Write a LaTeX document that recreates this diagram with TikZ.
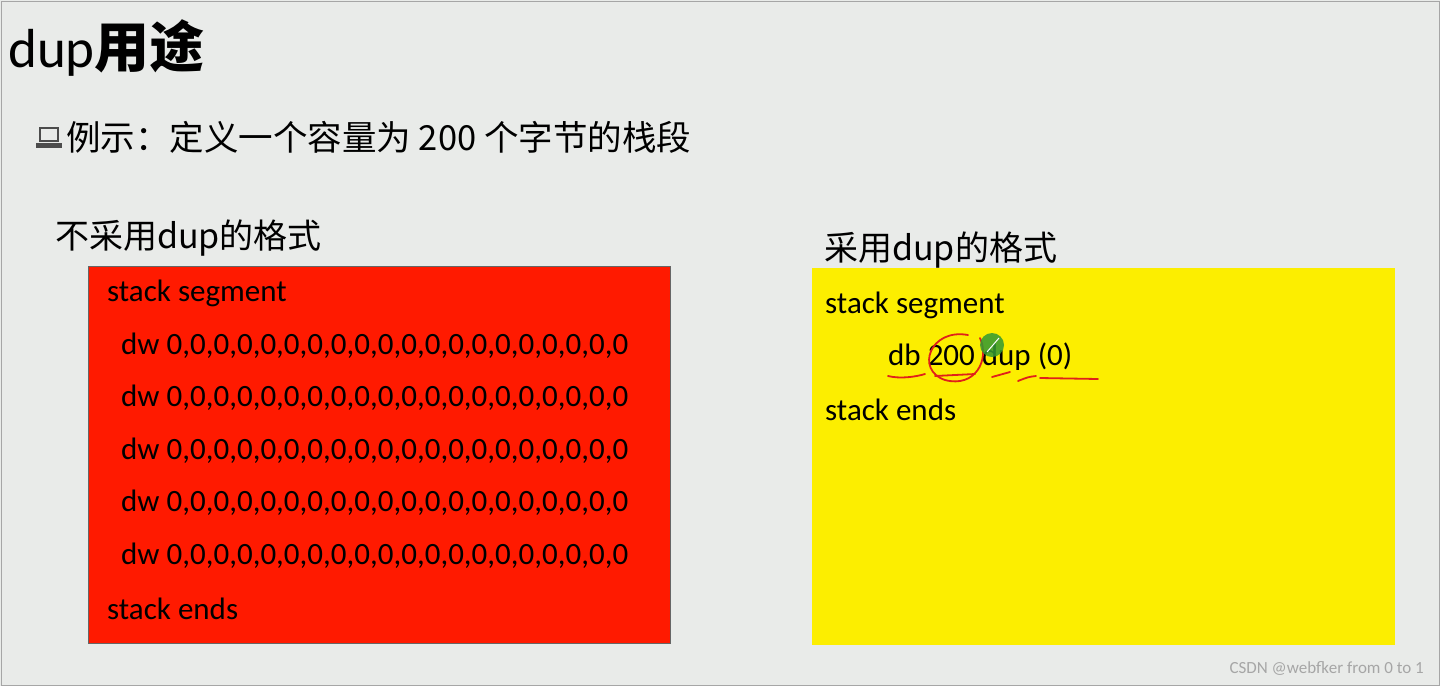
\documentclass[tikz,border=0pt]{standalone}
\usepackage{fontspec}
\setmainfont{Carlito}
\newfontfamily\cjk{Noto Sans CJK SC}
\definecolor{bg}{HTML}{E9EBE9}
\definecolor{redbox}{HTML}{FF1A00}
\definecolor{yelbox}{HTML}{FCEE00}
\definecolor{ink}{HTML}{E0201A}
\tikzset{code/.style={anchor=west,inner sep=0pt,font=\fontsize{31}{33}\selectfont},
 mark red/.style={draw=ink,line width=1.8pt,line cap=round}}
\begin{document}
\begin{tikzpicture}[x=1pt,y=-1pt]
\useasboundingbox (0,0) rectangle (1440,686);
\fill[bg] (0,0) rectangle (1440,686);
\draw[gray!70,line width=1pt] (1,1) rectangle (1439,685);
\node[anchor=west,inner sep=0pt,font=\fontsize{55}{58}\selectfont] (title) at (8,48) {dup{\cjk\bfseries 用途}};
\draw[black!70,line width=1.2pt] (40,128) rectangle (58,141);
\fill[black!70] (36,143) rectangle (62,148);
\node[anchor=west,inner sep=0pt,font=\cjk\fontsize{34.5}{36}\selectfont] (sub) at (66,137) {例示：定义一个容量为 200 个字节的栈段};
\node[anchor=west,inner sep=0pt,font=\cjk\fontsize{34}{36}\selectfont] (lh) at (55,238) {不采用dup的格式};
\node[anchor=west,inner sep=0pt,font=\cjk\fontsize{34}{36}\selectfont] (rh) at (824,250) {采用dup的格式};
\node[draw=black!60,fill=redbox,minimum width=582pt,minimum height=377pt,anchor=north west,inner sep=0pt] (lbox) at (88,266) {};
\node[fill=yelbox,minimum width=583pt,minimum height=377pt,anchor=north west,inner sep=0pt] (rbox) at (812,268) {};
\node[code] (l1) at (107,293) {stack segment};
\foreach \i/\y in {2/346,3/398,4/451,5/503,6/556}
  \node[code] (l\i) at (121,\y) {dw 0,0,0,0,0,0,0,0,0,0,0,0,0,0,0,0,0,0,0,0};
\node[code] (l7) at (107,609) {stack ends};
\node[code] (r1) at (825,305) {stack segment};
\node[code] (r2) at (888,357) {db 200 dup (0)};
\node[code] (r3) at (825,410) {stack ends};
\draw[mark red] (888,376) .. controls (900,379) and (915,377) .. (925,374);
\draw[mark red] (935,376) -- (975,374);
\draw[mark red] (992,377) -- (1010,372);
\draw[mark red] (1018,381) .. controls (1028,377) .. (1036,376);
\draw[mark red] (1040,378) -- (1098,379);
\draw[mark red] (968,335) .. controls (930,328) and (915,370) .. (945,380) .. controls (975,388) and (990,360) .. (980,338);
\fill[green!50!black!80,opacity=0.85] (992,345) circle (12);
\draw[white,line width=1pt] (987,352) -- (999,338);
\node[anchor=east,inner sep=0pt,text=gray!70,font=\fontsize{17}{18}\selectfont] (wm) at (1424,668) {CSDN @webfker from 0 to 1};
\end{tikzpicture}
\end{document}
